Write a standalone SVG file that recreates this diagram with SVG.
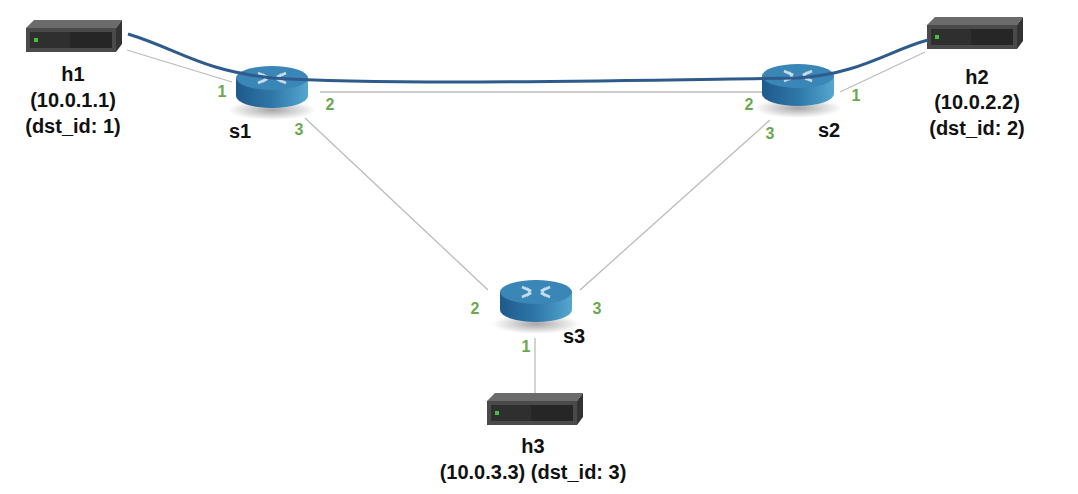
<svg xmlns="http://www.w3.org/2000/svg" width="1078" height="494" viewBox="0 0 1078 494">
<style>
.lbl{font-family:"Liberation Sans",Arial,sans-serif;font-weight:bold;font-size:20px;fill:#111;text-anchor:middle}
.port{font-family:"Liberation Sans",Arial,sans-serif;font-weight:bold;font-size:16px;fill:#6aa84f;text-anchor:middle}
.link{stroke:#bbb;stroke-width:1.3;fill:none}
</style>
<defs>
<linearGradient id="rb" x1="0" x2="1"><stop offset="0" stop-color="#1f5a8c"/><stop offset="0.5" stop-color="#2e77a8"/><stop offset="1" stop-color="#55a7d1"/></linearGradient>
<radialGradient id="sh" cx="0.5" cy="0.5" r="0.5"><stop offset="0" stop-color="#000" stop-opacity="0.35"/><stop offset="1" stop-color="#000" stop-opacity="0"/></radialGradient>
<g id="router">
<ellipse cx="0" cy="24" rx="44" ry="10" fill="url(#sh)"/>
<path d="M-36 -8 V10 A36 12 0 0 0 36 10 V-8 Z" fill="url(#rb)"/>
<ellipse cx="0" cy="-8" rx="36" ry="12" fill="#3a86b6"/>
<g stroke="#c5dcea" stroke-width="2.5" fill="none">
<path d="M-14 -13 L-5 -9 M14 -13 L5 -9 M-14 -3 L-5 -7 M14 -3 L5 -7"/>
</g>
<g fill="#c5dcea"><path d="M-4 -9 L-9 -13 L-8 -8Z M4 -9 L9 -13 L8 -8Z M-4 -7 L-9 -3 L-8 -8Z M4 -7 L9 -3 L8 -8Z"/></g>
</g>
<g id="host">
<path d="M0 8 L8 0 H96 L90 8 Z" fill="#6b6b6b"/>
<path d="M90 8 L96 0 V24 L90 32 Z" fill="#333"/>
<rect x="0" y="8" width="90" height="24" fill="#4a4a4a"/>
<rect x="4" y="12" width="82" height="16" fill="#2f2f2f"/>
<rect x="44" y="12" width="42" height="16" fill="#262626"/>
<rect x="8" y="18" width="4" height="4" fill="#44c044"/>
</g>
</defs>
<g id="connectors">
<line class="link" x1="127" y1="50" x2="232" y2="82"/>
<line class="link" x1="320" y1="92" x2="762" y2="92"/>
<line class="link" x1="305" y1="118" x2="488" y2="290"/>
<line class="link" x1="770" y1="120" x2="580" y2="290"/>
<line class="link" x1="535" y1="338" x2="535" y2="393"/>
<line class="link" x1="840" y1="92" x2="925" y2="52"/>
</g>
<g id="h1"><use href="#host" x="26" y="20"/><text class="lbl" x="73" y="81">h1</text><text class="lbl" x="73" y="107">(10.0.1.1)</text><text class="lbl" x="73" y="133">(dst_id: 1)</text></g>
<g id="h2"><use href="#host" x="927" y="17"/><text class="lbl" x="977" y="84">h2</text><text class="lbl" x="977" y="109">(10.0.2.2)</text><text class="lbl" x="977" y="135">(dst_id: 2)</text></g>
<g id="h3"><use href="#host" x="487" y="393"/><text class="lbl" x="533" y="453">h3</text><text class="lbl" x="533" y="479">(10.0.3.3) (dst_id: 3)</text></g>
<g id="s1"><use href="#router" x="272" y="86"/><text class="lbl" x="240" y="138">s1</text></g>
<g id="s2"><use href="#router" x="798" y="84"/><text class="lbl" x="829" y="137">s2</text></g>
<g id="s3"><use href="#router" x="536" y="300"/><text class="lbl" x="574" y="343">s3</text></g>
<path d="M128 34 C180 50 200 70 272 78 C400 86 650 80 798 78 C860 74 890 50 928 40" stroke="#2f5b8c" stroke-width="3" fill="none"/>
<g id="ports">
<text class="port" x="222" y="97">1</text><text class="port" x="330" y="110">2</text><text class="port" x="299" y="135">3</text>
<text class="port" x="749" y="110">2</text><text class="port" x="856" y="101">1</text><text class="port" x="770" y="139">3</text>
<text class="port" x="475" y="314">2</text><text class="port" x="597" y="314">3</text><text class="port" x="526" y="352">1</text>
</g>
</svg>
